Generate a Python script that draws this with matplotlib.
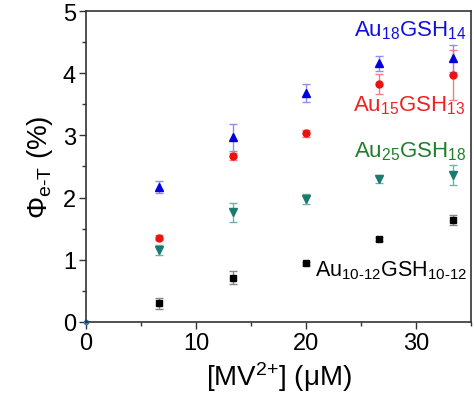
import matplotlib
matplotlib.use("Agg")
import matplotlib.pyplot as plt

plt.rcParams['font.family'] = ['Liberation Sans', 'DejaVu Sans']
plt.rcParams['mathtext.fontset'] = 'custom'
plt.rcParams['mathtext.rm'] = 'Liberation Sans'
plt.rcParams['mathtext.it'] = 'Liberation Sans'

mv_conc = [6.67, 13.33, 20.0, 26.67, 33.33]

au18_vals = [2.17, 2.97, 3.68, 4.16, 4.24]
au18_err = [0.10, 0.22, 0.15, 0.12, 0.22]

au15_vals = [1.35, 2.66, 3.03, 3.82, 3.97]
au15_err = [0.04, 0.05, 0.05, 0.16, 0.40]

au25_vals = [1.16, 1.76, 1.98, 2.30, 2.36]
au25_err = [0.08, 0.15, 0.08, 0.06, 0.16]

au10_vals = [0.30, 0.71, 0.94, 1.33, 1.64]
au10_err = [0.09, 0.10, 0.03, 0.03, 0.08]

origin_x = [0]
origin_y = [0]

fig = plt.figure(figsize=(4.74, 4.02), dpi=100)
ax = fig.add_axes([0.181, 0.197, 0.813, 0.773])

ax.errorbar(mv_conc, au10_vals, yerr=au10_err, fmt='s', color='black', ms=5,
            ecolor='#888888', elinewidth=1, capsize=3)
ax.errorbar(mv_conc, au25_vals, yerr=au25_err, fmt='v', color='#1b7a6e', ms=6,
            ecolor='#6fb3ad', elinewidth=1, capsize=3)
ax.errorbar(mv_conc, au15_vals, yerr=au15_err, fmt='o', color='#ee1111', ms=5,
            ecolor='#f08080', elinewidth=1, capsize=3)
ax.errorbar(mv_conc, au18_vals, yerr=au18_err, fmt='^', color='#0000dd', ms=6,
            ecolor='#8f8fe8', elinewidth=1, capsize=3)
ax.plot(origin_x, origin_y, 'o', color='#3a7ab0', ms=3, clip_on=False)

ax.text(24.4, 4.70, r'Au$_{18}$GSH$_{14}$', color='#1010dd', fontsize=16, va='center')
ax.text(24.3, 3.50, r'Au$_{15}$GSH$_{13}$', color='#ee2222', fontsize=16, va='center')
ax.text(24.4, 2.75, r'Au$_{25}$GSH$_{18}$', color='#1f7f2a', fontsize=16, va='center')
ax.text(20.8, 0.84, r'Au$_{10\text{-}12}$GSH$_{10\text{-}12}$', color='black', fontsize=15.5, va='center')

ax.set_xlim(0, 35)
ax.set_ylim(0, 5)
ax.set_xticks([0, 10, 20, 30])
ax.set_xticks([5, 15, 25, 35], minor=True)
ax.set_yticks([0, 1, 2, 3, 4, 5])
ax.set_yticks([0.5, 1.5, 2.5, 3.5, 4.5], minor=True)
ax.tick_params(axis='both', which='major', labelsize=17, length=5, width=1, color='#333333', pad=2)
ax.tick_params(axis='both', which='minor', length=3, width=1, color='#333333')
for s in ax.spines.values():
    s.set_color('#333333')
    s.set_linewidth(1.2)

ax.set_xlabel(r'[MV$^{2{+}}$] ($\mu$M)', fontsize=20, labelpad=4)
ax.set_ylabel(r'$\Phi$$_{\mathrm{e\text{-}T}}$ (%)', fontsize=20, labelpad=6)

fig.savefig('out.png', dpi=100)
